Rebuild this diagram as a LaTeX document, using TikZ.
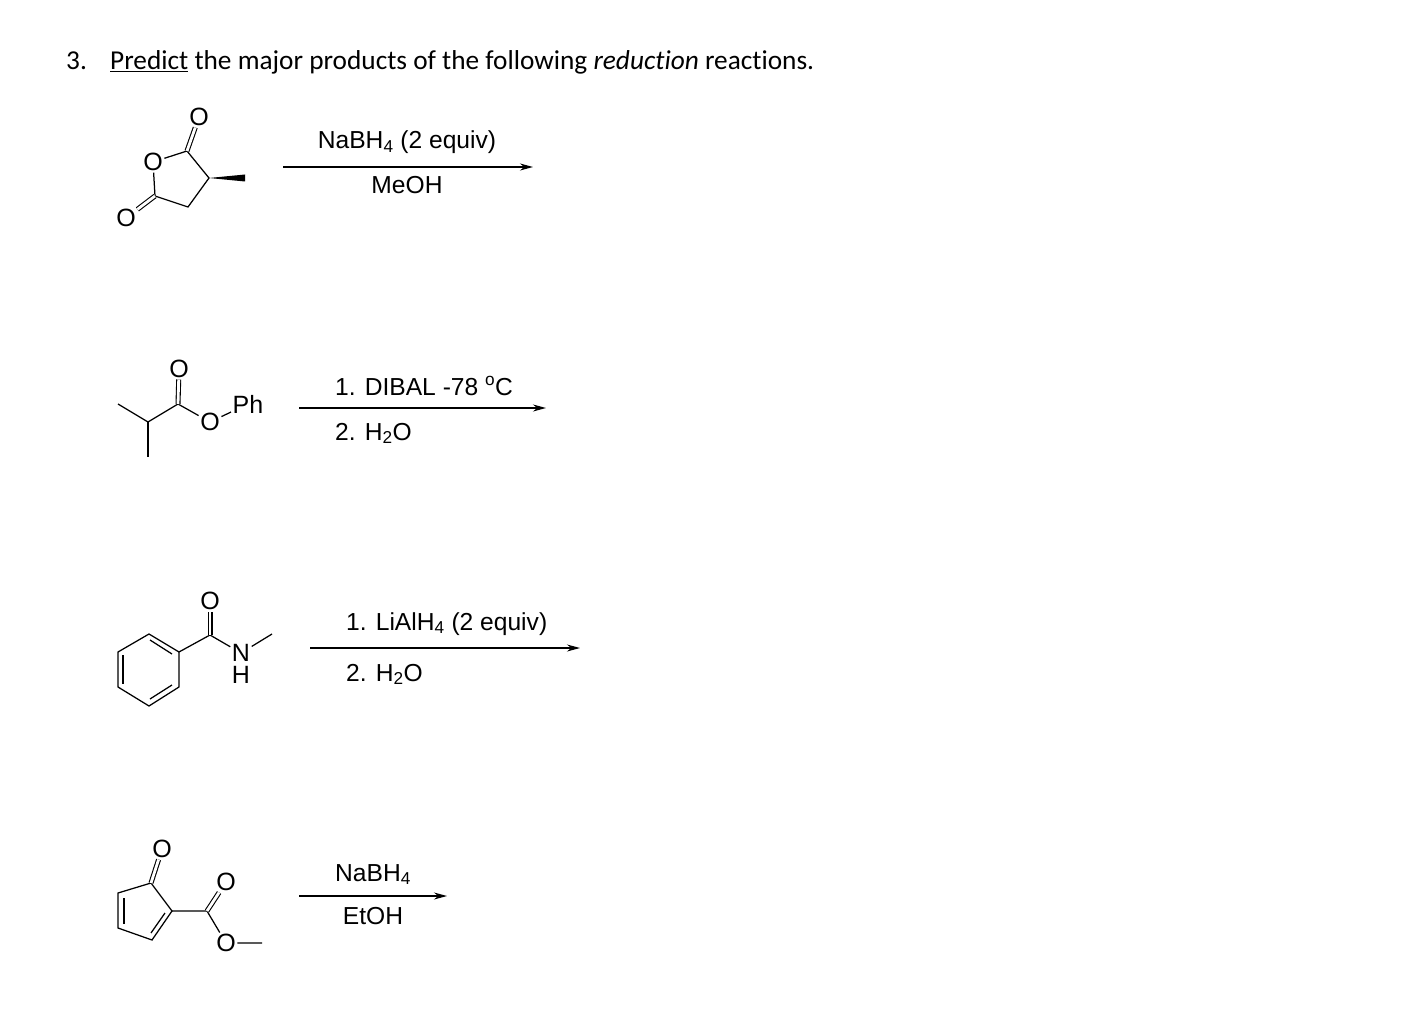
\documentclass[tikz,border=0pt]{standalone}
\usepackage{fontspec}
\setmainfont{Liberation Sans}
\newfontfamily\titlefont[Ligatures=NoCommon]{Carlito}
\usetikzlibrary{calc,arrows.meta}
\tikzset{
	atom/.style={inner sep=1.5pt,font=\fontsize{25}{30}\selectfont},
	reagent/.style={inner sep=0pt,anchor=base,font=\fontsize{24.6}{28}\selectfont},
	heading/.style={inner sep=0pt,anchor=base west,font=\titlefont\fontsize{27.3}{32}\selectfont},
	bond/.style={line width=1.25pt},
	dbond/.style={line width=1.1pt,double,double distance=2.8pt},
	rxnarrow/.style={line width=1.3pt,-{Stealth[length=13pt,width=7pt]}},
}
\begin{document}
\begin{tikzpicture}[x=1pt,y=-1pt]
	\useasboundingbox (0,0) rectangle (1404,1016);
	\node[heading] (num) at (66,70) {3.};
	\node[heading] (title) at (110,70) {\underline{Predict} the major products of the following \textit{reduction} reactions.};
	%
	\node[atom] (a1) at (153,162) {O};
	\node[atom] (a2) at (199,117) {O};
	\node[atom] (a3) at (126,218) {O};
	\coordinate (c1) at (187,151);
	\coordinate (c2) at (209,178);
	\coordinate (c3) at (188,207);
	\coordinate (c4) at (155,196);
	\coordinate (me1) at (245,178);
	\draw[bond] (a1)--(c1)--(c2)--(c3)--(c4)--(a1);
	\draw[dbond] (c1)--(a2);
	\draw[dbond] (c4)--(a3);
	\fill (c2)--($(me1)+(0,-3.5)$)--($(me1)+(0,3.5)$)--cycle;
	\coordinate (s1) at (283,167);
	\coordinate (e1) at (533,167);
	\draw[rxnarrow] (s1)--(e1);
	\node[reagent] (r1) at (407,149) {NaBH\textsubscript{4} (2 equiv)};
	\node[reagent] (r2) at (407,194) {MeOH};
	%
	\node[atom] (b1) at (179,369) {O};
	\node[atom] (b2) at (210,422) {O};
	\node[atom] (b3) at (248,404) {Ph};
	\coordinate (d1) at (118,404);
	\coordinate (d2) at (148,422);
	\coordinate (d3) at (148,457);
	\coordinate (d4) at (178,404);
	\draw[bond] (d1)--(d2)--(d4)--(b2)--(b3);
	\draw[bond] (d2)--(d3);
	\draw[dbond] (d4)--(b1);
	\coordinate (s2) at (299,408);
	\coordinate (e2) at (546,408);
	\draw[rxnarrow] (s2)--(e2);
	\node[reagent,anchor=base west] (r3) at (335,395) {1. DIBAL -78 \textsuperscript{o}C};
	\node[reagent,anchor=base west] (r4) at (335,440) {2. H\textsubscript{2}O};
	%
	\coordinate (f1) at (149,634);
	\coordinate (f2) at (179,652);
	\coordinate (f3) at (179,687);
	\coordinate (f4) at (149,706);
	\coordinate (f5) at (118,687);
	\coordinate (f6) at (118,652);
	\draw[bond] (f1)--(f2)--(f3)--(f4)--(f5)--(f6)--cycle;
	\draw[bond] (123,655)--(123,684);
	\draw[bond] (150,640)--(172,654);
	\draw[bond] (150,699)--(172,685);
	\coordinate (f7) at (210,635);
	\coordinate (f8) at (272,634);
	\node[atom] (g1) at (210,601) {O};
	\node[atom] (g2) at (241,653) {N};
	\node[atom] (g3) at (241,675) {H};
	\draw[bond] (f2)--(f7)--(g2)--(f8);
	\draw[dbond] (f7)--(g1);
	\coordinate (s3) at (310,648);
	\coordinate (e3) at (580,648);
	\draw[rxnarrow] (s3)--(e3);
	\node[reagent,anchor=base west] (r5) at (346,630) {1. LiAlH\textsubscript{4} (2 equiv)};
	\node[reagent,anchor=base west] (r6) at (346,681) {2. H\textsubscript{2}O};
	%
	\coordinate (h1) at (151,883);
	\coordinate (h2) at (118,893);
	\coordinate (h3) at (118,928);
	\coordinate (h4) at (152,940);
	\coordinate (h5) at (172,911);
	\coordinate (h6) at (207,911);
	\coordinate (h7) at (262,943);
	\node[atom] (k1) at (162,849) {O};
	\node[atom] (k2) at (226,882) {O};
	\node[atom] (k3) at (226,943) {O};
	\draw[bond] (h1)--(h2)--(h3)--(h4)--(h5)--(h1);
	\draw[bond] (124,898)--(124,924);
	\draw[bond] (151,933)--(165,913);
	\draw[bond] (h5)--(h6)--(k3)--(h7);
	\draw[dbond] (h1)--(k1);
	\draw[dbond] (h6)--(k2);
	\coordinate (s4) at (299,896);
	\coordinate (e4) at (447,896);
	\draw[rxnarrow] (s4)--(e4);
	\node[reagent] (r7) at (373,881) {NaBH\textsubscript{4}};
	\node[reagent] (r8) at (373,924) {EtOH};
\end{tikzpicture}
\end{document}
